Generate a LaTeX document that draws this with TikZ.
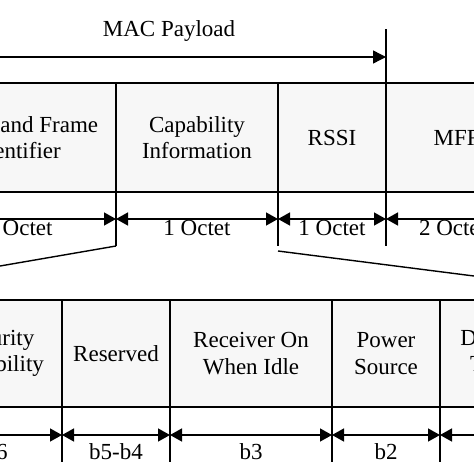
\documentclass[tikz,border=0pt]{standalone}
\usepackage{fontspec}
\setmainfont{Liberation Serif}
\usetikzlibrary{arrows.meta}
\begin{document}
\begin{tikzpicture}[x=1pt,y=-1pt,
  txt/.style={font=\fontsize{23}{26.5}\selectfont, align=center, inner sep=0pt},
  field/.style={txt, draw, fill=black!3, line width=1.4pt, outer sep=0pt},
  topfield/.style={field, minimum height=109pt},
  botfield/.style={field, minimum height=107pt},
  ln/.style={line width=1.4pt},
  dim/.style={ln, {Triangle[length=12pt,width=13pt]}-{Triangle[length=12pt,width=13pt]}},
  lab/.style={txt, anchor=base}]
\useasboundingbox (0,0) rectangle (474,474);
\clip (0,0) rectangle (474,474);
% top label
\node[lab] (mac) at (169,36) {MAC Payload};
\coordinate (mstart) at (-10,57);
\coordinate (mend) at (386,57);
\draw[ln,-{Triangle[length=13pt,width=13pt]}] (mstart) -- (mend);
% top row
\node[topfield, minimum width=196pt] (cmd) at (18,137.5) {Command Frame\\Identifier};
\node[topfield, minimum width=162pt] (cap) at (197,137.5) {Capability\\Information};
\node[topfield, minimum width=108pt] (rssi) at (332,137.5) {RSSI};
\node[topfield, minimum width=144pt] (mfr) at (458,137.5) {MFR};
\coordinate (mtop) at (386,29);
\coordinate (t1) at (116,246);
\coordinate (t2) at (278,246);
\coordinate (t3) at (386,246);
\draw[ln] (cap.south west) -- (t1);
\draw[ln] (rssi.south west) -- (t2);
\draw[ln] (mtop) -- (t3);
\coordinate (d0) at (-80,219);
\coordinate (d1) at (116,219);
\coordinate (d2) at (278,219);
\coordinate (d3) at (386,219);
\coordinate (d4) at (530,219);
\draw[dim] (d0) -- (d1);
\draw[dim] (d1) -- (d2);
\draw[dim] (d2) -- (d3);
\draw[dim] (d3) -- (d4);
\node[lab] (o1) at (19,235.7) {1 Octet};
\node[lab] (o2) at (197,235.7) {1 Octet};
\node[lab] (o3) at (332,235.7) {1 Octet};
\node[lab] (o4) at (457,235.7) {2 Octets};
% bottom row
\node[botfield, minimum width=132pt] (sec) at (-4,353.5) {Security\\Capability};
\node[botfield, minimum width=108pt] (res) at (116,353.5) {Reserved};
\node[botfield, minimum width=162pt] (rx) at (251,353.5) {Receiver On\\When Idle};
\node[botfield, minimum width=108pt] (pwr) at (386,353.5) {Power\\Source};
\node[botfield, minimum width=106pt] (dev) at (493,353.5) {Device\\Type};
% zoom lines
\coordinate (z1) at (278,251);
\coordinate (zl) at (-200,300.5);
\coordinate (zr) at (662,300);
\draw[ln] (t1) -- (zl);
\draw[ln] (z1) -- (zr);
% bottom ticks
\coordinate (b1) at (62,461.7);
\coordinate (b2) at (170,461.7);
\coordinate (b3) at (332,461.7);
\coordinate (b4) at (440,461.7);
\draw[ln] (res.south west) -- (b1);
\draw[ln] (rx.south west) -- (b2);
\draw[ln] (pwr.south west) -- (b3);
\draw[ln] (dev.south west) -- (b4);
\coordinate (e0) at (-70,435);
\coordinate (e1) at (62,435);
\coordinate (e2) at (170,435);
\coordinate (e3) at (332,435);
\coordinate (e4) at (440,435);
\coordinate (e5) at (546,435);
\draw[dim] (e0) -- (e1);
\draw[dim] (e1) -- (e2);
\draw[dim] (e2) -- (e3);
\draw[dim] (e3) -- (e4);
\draw[dim] (e4) -- (e5);
\node[lab] (l1) at (-4,459) {b6};
\node[lab] (l2) at (116,459) {b5-b4};
\node[lab] (l3) at (251,459) {b3};
\node[lab] (l4) at (386,459) {b2};
\node[lab] (l5) at (493,459) {b1};
\end{tikzpicture}
\end{document}
